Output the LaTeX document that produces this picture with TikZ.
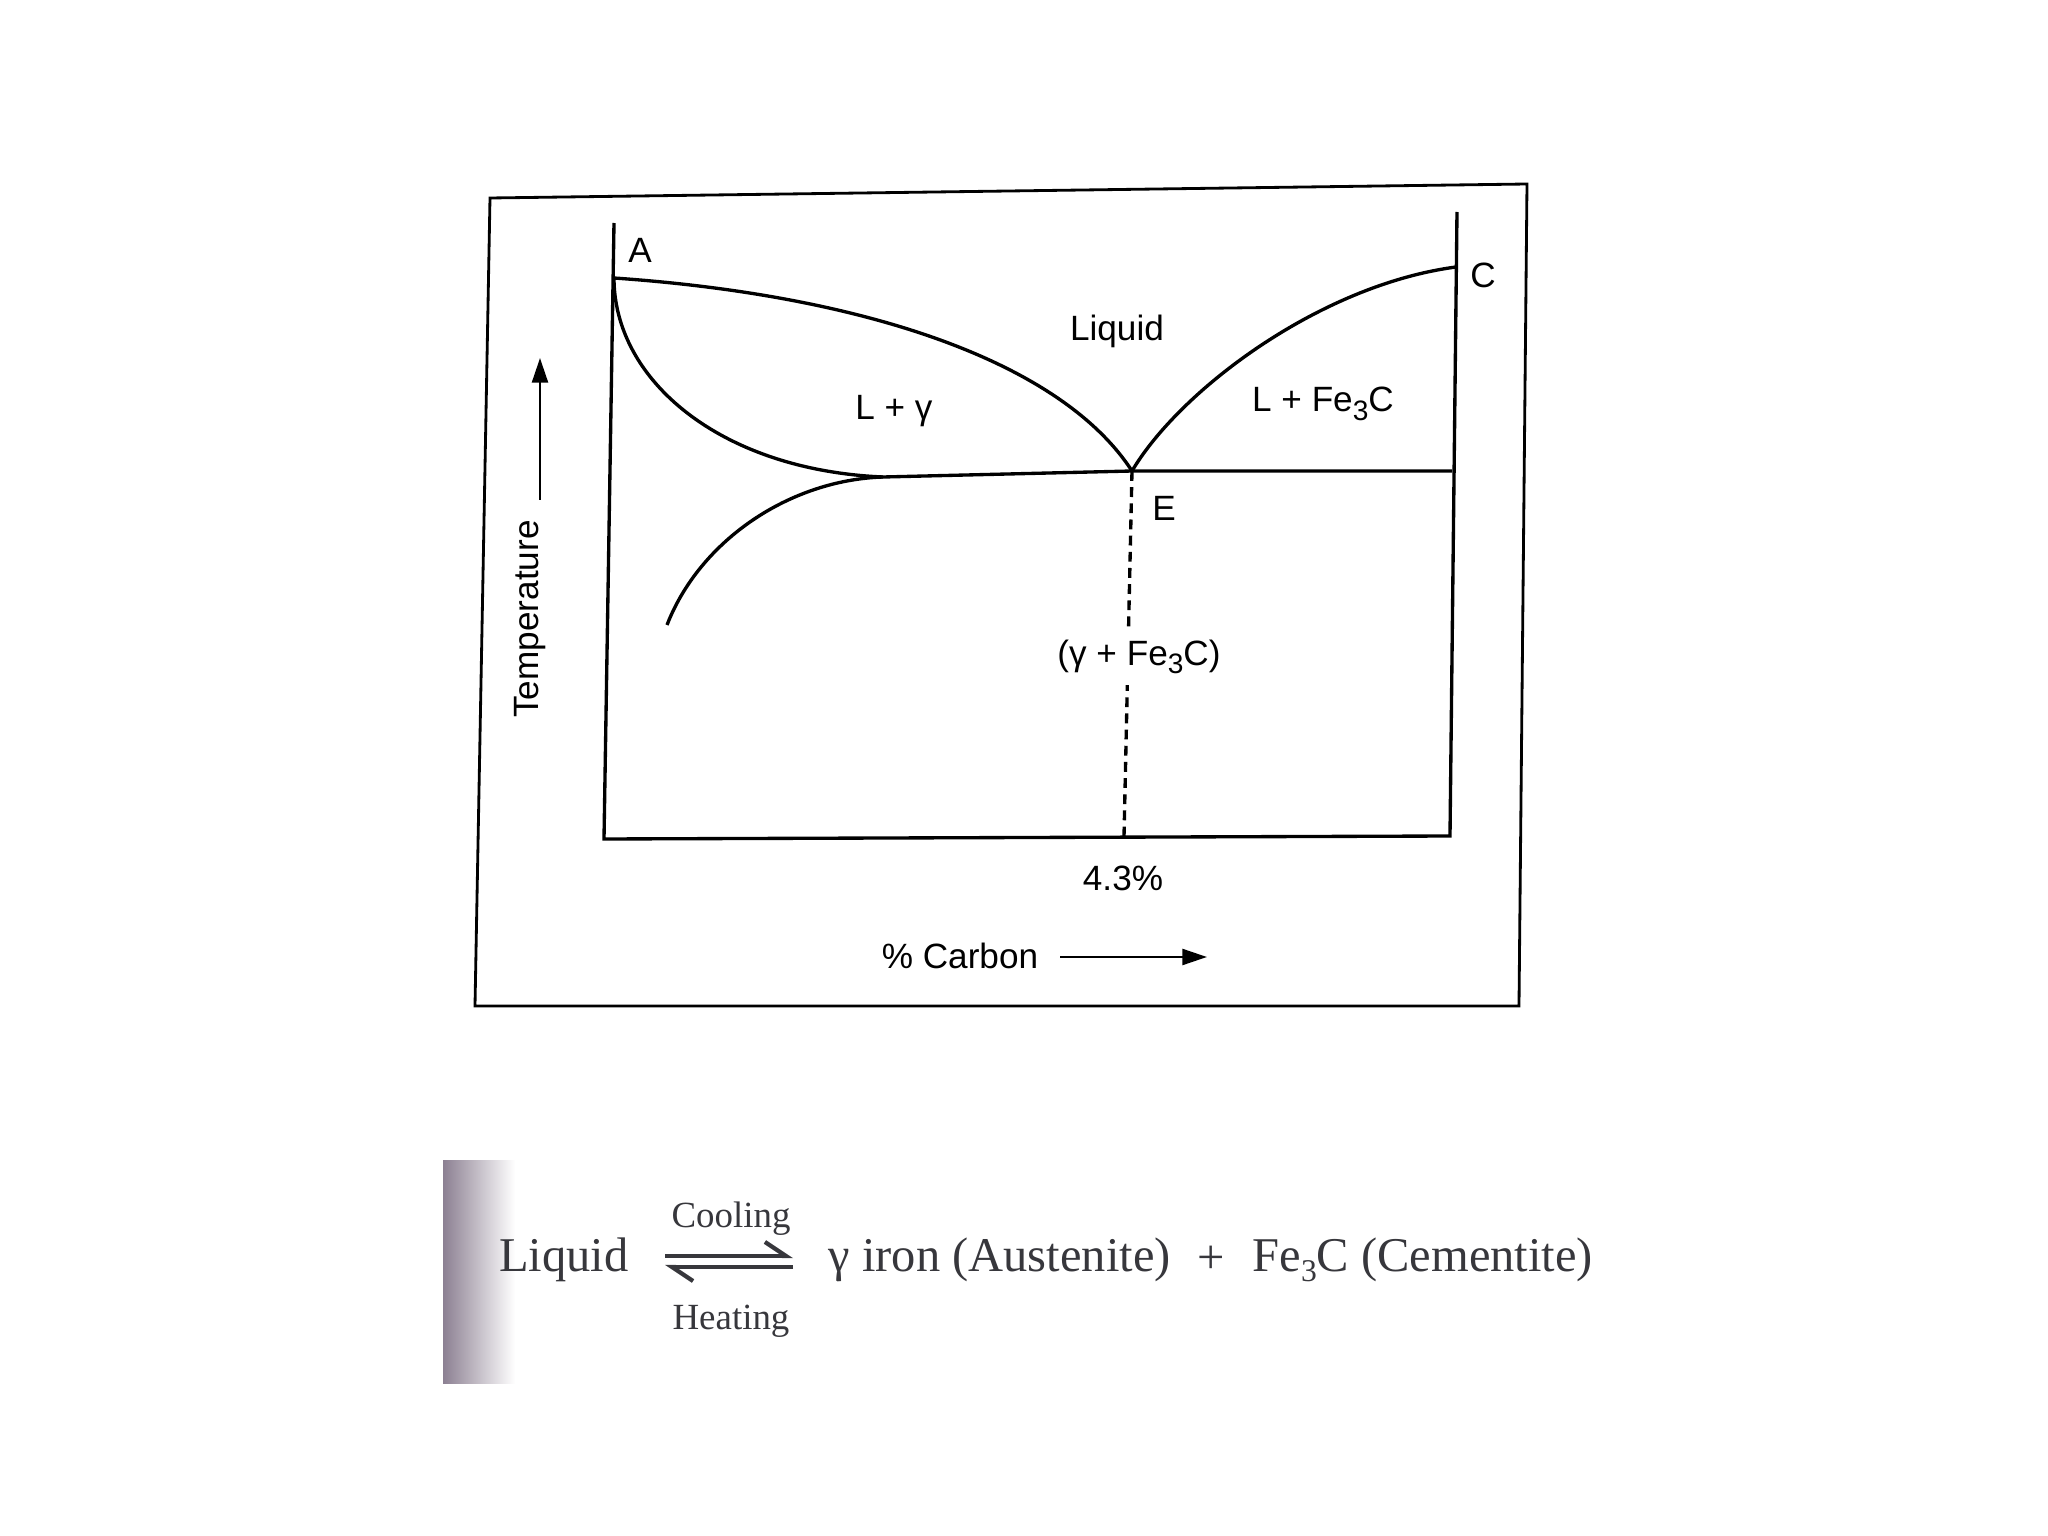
\documentclass[tikz,border=0pt]{standalone}
\usepackage{fontspec}
\setmainfont{Liberation Sans}
\newfontfamily\eqfont{Liberation Serif}
\usetikzlibrary{arrows.meta}
\definecolor{barshade}{RGB}{140,128,146}
\definecolor{eqtext}{RGB}{55,55,60}
\newcommand{\fesub}{Fe\raisebox{-0.45ex}{\fontsize{8}{8}\selectfont 3}C}
\newcommand{\fesubeq}{Fe\raisebox{-0.45ex}{\fontsize{9}{9}\selectfont 3}C}

\begin{document}
\begin{tikzpicture}[line width=0.95pt,
    lbl/.style={font=\fontsize{10}{12}\selectfont, inner sep=1pt},
    eq/.style={font=\eqfont\fontsize{13.8}{16}\selectfont, text=eqtext, inner sep=0pt},
    tag/.style={font=\eqfont\fontsize{10.5}{12}\selectfont, text=eqtext, inner sep=0pt},
    harp/.style={line width=1.2pt, draw=eqtext, -{Straight Barb[left,length=6pt,width=8pt]}},
    axarrow/.style={line width=0.8pt, -{Triangle[length=7pt,width=4.5pt]}}]
  \useasboundingbox (0,0) rectangle (20.48,-15.36);

  % outer frame
  \draw[line width=0.8pt] (4.90,-1.98) -- (15.27,-1.84) -- (15.19,-10.06) -- (4.75,-10.06) -- cycle;

  % axes
  \coordinate (ltop) at (6.14,-2.23);
  \coordinate (orig) at (6.04,-8.39);
  \coordinate (rbot) at (14.50,-8.36);
  \coordinate (rtop) at (14.57,-2.12);
  \draw (ltop) -- (orig) -- (rbot) -- (rtop);

  % phase boundaries
  \coordinate (ptA) at (6.14,-2.78);
  \coordinate (ptE) at (11.32,-4.71);
  \coordinate (ptC) at (14.56,-2.67);
  \coordinate (ptJ) at (8.83,-4.77);
  \coordinate (ptR) at (14.52,-4.71);
  \coordinate (ptS) at (6.67,-6.25);
  \coordinate (ptX) at (11.24,-8.37);
  \draw (ptA) .. controls (8.6,-2.95) and (10.6,-3.6) .. (ptE);
  \draw (ptE) .. controls (11.8,-3.9) and (13.2,-2.85) .. (ptC);
  \draw (ptA) .. controls (6.14,-3.8) and (7.2,-4.7) .. (ptJ);
  \draw (ptJ) .. controls (7.9,-4.8) and (7.0,-5.4) .. (ptS);
  \draw (ptJ) -- (ptE) -- (ptR);
  \draw[dash pattern=on 2.8pt off 1.8pt] (ptE) -- (ptX);

  % labels
  \node[lbl] (labA) at (6.40,-2.50) {A};
  \node[lbl] (labC) at (14.83,-2.75) {C};
  \node[lbl] (labE) at (11.64,-5.08) {E};
  \node[lbl] (liquid) at (11.17,-3.31) {Liquid};
  \node[lbl] (lgam) at (8.94,-4.11) {L + γ};
  \node[lbl] (lfe) at (13.23,-4.04) {L + \fesub};
  \node[lbl, fill=white, inner sep=3pt] (gamfe) at (11.39,-6.57) {(γ + \fesub)};
  \node[lbl] (pct) at (11.23,-8.78) {4.3\%};
  \node[lbl] (carbon) at (9.60,-9.56) {\% Carbon};
  \node[lbl, rotate=90] (temp) at (5.30,-6.19) {Temperature};

  % axis arrows
  \coordinate (tempT) at (5.40,-5.00);
  \coordinate (tempH) at (5.40,-3.58);
  \coordinate (carbT) at (10.60,-9.57);
  \coordinate (carbH) at (12.07,-9.57);
  \draw[axarrow] (tempT) -- (tempH);
  \draw[axarrow] (carbT) -- (carbH);

  % scan shadow at left of the reaction
  \shade[left color=barshade, right color=white] (4.43,-11.60) rectangle (5.15,-13.83);

  % reaction
  \node[eq] (eqliq) at (5.64,-12.60) {Liquid};
  \node[tag] (cool) at (7.31,-12.19) {Cooling};
  \node[tag] (heat) at (7.31,-13.21) {Heating};
  \node[eq, anchor=west] (eqiron) at (8.27,-12.60) {γ iron (Austenite)};
  \node[eq] (eqplus) at (12.11,-12.60) {+};
  \node[eq, anchor=west] (eqcem) at (12.51,-12.60) {\fesubeq{} (Cementite)};
  \coordinate (hA) at (6.65,-12.56);
  \coordinate (hB) at (7.93,-12.56);
  \coordinate (hC) at (6.65,-12.67);
  \coordinate (hD) at (7.93,-12.67);
  \draw[harp] (hA) -- (hB);
  \draw[harp] (hD) -- (hC);
\end{tikzpicture}
\end{document}
